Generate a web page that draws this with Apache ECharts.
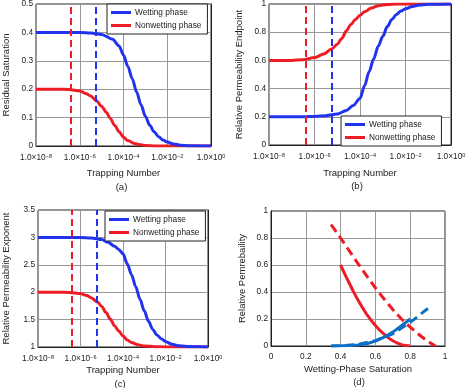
<!DOCTYPE html>
<html><head><meta charset="utf-8">
<script src="https://cdn.jsdelivr.net/npm/echarts@6/dist/echarts.min.js"></script>
<style>html,body{margin:0;padding:0;background:#fff}#c{width:474px;height:388px}</style>
</head><body><div id="c"></div>
<script>
// log10(trapping number) with value
const aWetting = [[-8,0.4],[-6,0.4],[-5.5,0.398],[-5,0.393],[-4.5,0.376],[-4.2,0.352],[-4,0.32],[-3.8,0.28],[-3.6,0.237],[-3.4,0.19],[-3.2,0.145],[-3,0.105],[-2.8,0.073],[-2.6,0.05],[-2.4,0.033],[-2.2,0.021],[-2,0.014],[-1.7,0.007],[-1.4,0.003],[-1,0.001],[0,0]];
const aNonwetting = [[-8,0.2],[-7,0.2],[-6.5,0.199],[-6,0.194],[-5.7,0.184],[-5.5,0.176],[-5.25,0.16],[-5,0.14],[-4.8,0.12],[-4.6,0.097],[-4.4,0.072],[-4.2,0.05],[-4,0.031],[-3.8,0.019],[-3.5,0.009],[-3.2,0.004],[-3,0.002],[-2.5,0],[0,0]];
const bWetting = [[-8,0.2],[-6.5,0.2],[-6,0.203],[-5.5,0.208],[-5,0.22],[-4.6,0.245],[-4.3,0.28],[-4,0.33],[-3.8,0.42],[-3.6,0.52],[-3.4,0.61],[-3.2,0.7],[-3,0.77],[-2.8,0.84],[-2.6,0.89],[-2.4,0.925],[-2.2,0.95],[-2,0.967],[-1.7,0.983],[-1.4,0.993],[-1,0.998],[0,1]];
const bNonwetting = [[-8,0.6],[-7,0.6],[-6.5,0.605],[-6,0.62],[-5.6,0.645],[-5.25,0.68],[-5,0.715],[-4.8,0.755],[-4.6,0.81],[-4.4,0.855],[-4.2,0.89],[-4,0.92],[-3.8,0.945],[-3.5,0.972],[-3.2,0.988],[-2.8,0.997],[-2.4,1],[0,1]];
const cWetting = [[-8,3],[-6,3],[-5.5,2.99],[-5,2.96],[-4.7,2.91],[-4.4,2.84],[-4.2,2.78],[-4,2.7],[-3.8,2.52],[-3.6,2.32],[-3.4,2.1],[-3.2,1.87],[-3,1.66],[-2.8,1.47],[-2.6,1.32],[-2.4,1.22],[-2.2,1.15],[-2,1.1],[-1.7,1.05],[-1.4,1.025],[-1,1.008],[0,1]];
const cNonwetting = [[-8,2],[-7,2],[-6.5,1.995],[-6,1.975],[-5.7,1.94],[-5.5,1.9],[-5.2,1.82],[-5,1.74],[-4.8,1.63],[-4.6,1.51],[-4.4,1.39],[-4.2,1.29],[-4,1.2],[-3.8,1.13],[-3.6,1.08],[-3.3,1.04],[-3,1.02],[-2.5,1.005],[-2,1],[0,1]];
const trapLinesLog = { nonwetting: -6.4, wetting: -5.25 };
// panel (d): wetting-phase saturation vs relative permeability
const dNonwettingSolid = [[0.4,0.6],[0.425,0.53],[0.45,0.465],[0.475,0.4],[0.5,0.34],[0.525,0.285],[0.55,0.235],[0.575,0.192],[0.6,0.152],[0.625,0.117],[0.65,0.087],[0.675,0.06],[0.7,0.039],[0.725,0.022],[0.75,0.01],[0.775,0.003],[0.8,0]];
const dNonwettingDashed = [[0.345,0.9],[0.4,0.8],[0.45,0.705],[0.5,0.61],[0.55,0.52],[0.6,0.43],[0.65,0.348],[0.7,0.27],[0.75,0.2],[0.8,0.14],[0.85,0.085],[0.9,0.035],[0.945,0]];
const dWettingSolid = [[0.345,0],[0.4,0.001],[0.45,0.003],[0.5,0.007],[0.55,0.017],[0.6,0.036],[0.65,0.065],[0.7,0.103],[0.75,0.15],[0.8,0.2]];
const dWettingDashed = [[0.345,0],[0.4,0.002],[0.5,0.012],[0.6,0.04],[0.7,0.09],[0.8,0.175],[0.85,0.225],[0.92,0.298]];

const BLUE = '#2233ee', RED = '#ee1c24', DBLUE = '#0b6fc7';
const FONT = 'Liberation Sans, Arial, sans-serif';
const chart = echarts.init(document.getElementById('c'), null, {renderer:'canvas'});

const grids = [
  {left:32, top:4, width:179, height:142},
  {left:269, top:4, width:182, height:141},
  {left:32, top:210, width:176, height:137},
  {left:271, top:211, width:174, height:135}
].map(g => Object.assign({show:true, borderColor:'#222', borderWidth:1, backgroundColor:'#fff'}, g));

function logFmt(v){ return '{b|1.0×10}{s|' + (v<0?'−':'') + Math.abs(v) + '}'; }
const split = {show:true, lineStyle:{color:'#999', width:1}};
function xLog(i, gap){
  return {type:'value', gridIndex:i, min:-8, max:0, interval:2, name:'Trapping Number', nameLocation:'middle', nameGap:gap,
    nameTextStyle:{fontSize:9.5, color:'#222', fontFamily:FONT},
    axisLine:{lineStyle:{color:'#222'}}, axisTick:{show:false}, splitLine:split,
    axisLabel:{margin:7, formatter:logFmt, rich:{b:{fontSize:8.3, color:'#222', fontFamily:FONT}, s:{fontSize:5.5, color:'#222', fontFamily:FONT, verticalAlign:'top', padding:[0,0,4,0]}}}};
}
function yAx(i, min, max, step, name, gap){
  return {type:'value', gridIndex:i, min:min, max:max, interval:step, name:name, nameLocation:'middle', nameGap:gap,
    nameTextStyle:{fontSize:9.5, color:'#222', fontFamily:FONT},
    axisLine:{lineStyle:{color:'#222'}}, axisTick:{show:false}, splitLine:split,
    axisLabel:{margin:3, fontSize:8.3, color:'#222', fontFamily:FONT}};
}
function vline(x, color){
  return {silent:true, symbol:'none', label:{show:false}, animation:false,
    lineStyle:{color:color, width:2, type:[7,4]}, data:[{xAxis:x}]};
}
function ser(name, i, data, color, extra){
  return Object.assign({type:'line', name:name, xAxisIndex:i, yAxisIndex:i, data:data, showSymbol:false, symbol:'none',
    smooth:0.3, smoothMonotone:'x', lineStyle:{color:color, width:3}, itemStyle:{color:color}, z:3}, extra||{});
}
const series = [];
for (let i=0;i<3;i++){
  const W = [aWetting,bWetting,cWetting][i], N = [aNonwetting,bNonwetting,cNonwetting][i];
  series.push(ser('Nonwetting phase', i, N, RED, {markLine: vline(trapLinesLog.nonwetting, RED)}));
  series.push(ser('Wetting phase', i, W, BLUE, {markLine: vline(trapLinesLog.wetting, BLUE)}));
}
series.push(ser('kr nonwetting (solid)', 3, dNonwettingSolid, RED, {smooth:false, lineStyle:{color:RED, width:3}}));
series.push(ser('kr nonwetting (dashed)', 3, dNonwettingDashed, RED, {smooth:false, lineStyle:{color:RED, width:3, type:[9,5]}}));
series.push(ser('kr wetting (dashed)', 3, dWettingDashed, DBLUE, {smooth:false, lineStyle:{color:DBLUE, width:3, type:[9,5]}}));
series.push(ser('kr wetting (solid)', 3, dWettingSolid, DBLUE, {smooth:false, lineStyle:{color:DBLUE, width:3}}));

function legend(left, top){
  return {left:left, top:top, orient:'vertical', data:['Wetting phase','Nonwetting phase'], icon:'rect',
    itemWidth:20, itemHeight:3, itemGap:2, padding:[3,6,3,4], backgroundColor:'#fff', borderColor:'#222', borderWidth:1,
    borderRadius:0, selectedMode:false, textStyle:{fontSize:8.3, color:'#222', fontFamily:FONT, lineHeight:11, padding:[0,0,0,-1]}};
}
chart.setOption({
  animation:false,
  grid:grids,
  xAxis:[xLog(0,22), xLog(1,23), xLog(2,18),
    {type:'value', gridIndex:3, min:0, max:1, interval:0.2, name:'Wetting-Phase Saturation', nameLocation:'middle', nameGap:18,
     nameTextStyle:{fontSize:9.5, color:'#222', fontFamily:FONT}, axisLine:{lineStyle:{color:'#222'}}, axisTick:{show:false}, splitLine:split,
     axisLabel:{margin:7, fontSize:8.3, color:'#222', fontFamily:FONT}}],
  yAxis:[yAx(0,0,0.5,0.1,'Residual Saturation',25), yAx(1,0,1,0.2,'Relative Permeability Endpoint',25),
    yAx(2,1,3.5,0.5,'Relative Permeability Exponent',27), yAx(3,0,1,0.2,'Relative Pemrebaility',24)],
  legend:[legend(107,4), legend(341,116), legend(105,211)],
  series:series,
  graphic:[
    {type:'text', x:121.5, y:187, style:{text:'(a)', font:'9.5px '+FONT, fill:'#222', align:'center', verticalAlign:'middle'}},
    {type:'text', x:357, y:186, style:{text:'(b)', font:'9.5px '+FONT, fill:'#222', align:'center', verticalAlign:'middle'}},
    {type:'text', x:120, y:384, style:{text:'(c)', font:'9.5px '+FONT, fill:'#222', align:'center', verticalAlign:'middle'}},
    {type:'text', x:359, y:382, style:{text:'(d)', font:'9.5px '+FONT, fill:'#222', align:'center', verticalAlign:'middle'}}
  ]
});
</script></body></html>
